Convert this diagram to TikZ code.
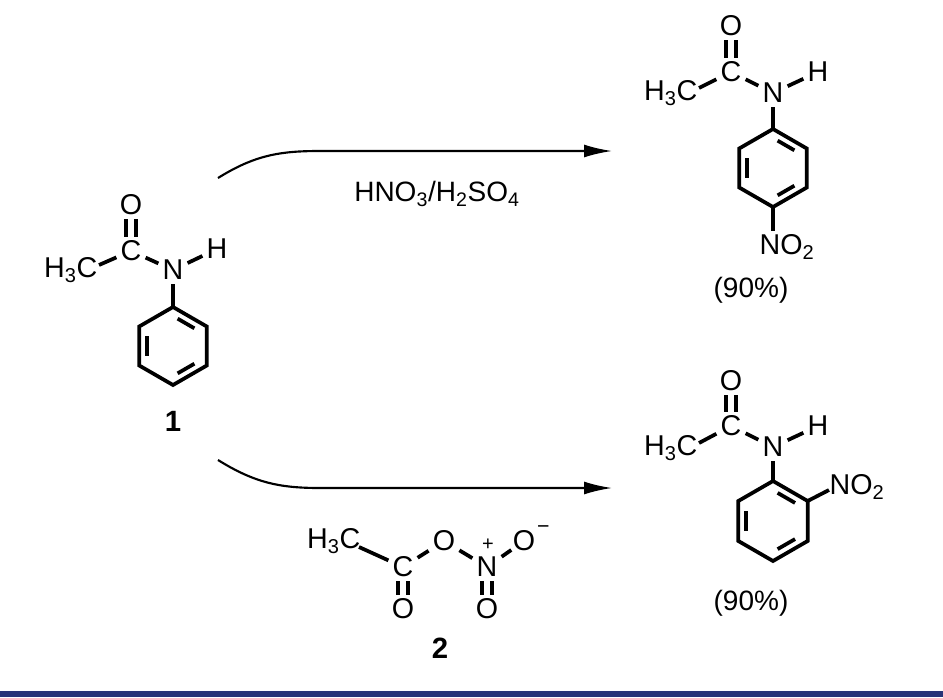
\documentclass[tikz,border=0pt]{standalone}
\usepackage{fontspec}
\setmainfont{Liberation Sans}
\usetikzlibrary{calc,arrows.meta}
\begin{document}
\begin{tikzpicture}[x=0.75pt,y=-0.75pt,
  bond/.style={line width=2.8pt},
  atom/.style={font=\fontsize{21.5}{22}\selectfont,inner sep=3pt},
  lab/.style={font=\fontsize{21}{22}\selectfont,inner sep=1pt},
  bold/.style={font=\fontsize{22}{24}\selectfont\bfseries},
  rxn/.style={line width=1.6pt,-{Latex[length=28pt*0.75,width=13pt*0.75]}}]
\useasboundingbox (0,0) rectangle (943,697);
\fill[fill={rgb,255:red,40;green,52;blue,120}] (0,691) rectangle (943,697);
% ---------- molecule 1
\node[atom] (o1) at (131,205) {O};
\node[atom] (c1) at (131,251) {C};
\node[atom,anchor=east,inner sep=1pt] (m1) at (99,270) {H\textsubscript{3}C};
\node[atom] (n1) at (173,270) {N};
\node[atom] (h1) at (217,249) {H};
\foreach \i/\a in {1/90,2/30,3/-30,4/-90,5/-150,6/150}
  \coordinate (r1v\i) at ($(173,346)+(\a:39 and -39)$);
\draw[bond] ($(m1.east)+(0,-5)$) -- (c1);
\draw[bond] (c1) -- (n1);
\draw[bond] (n1) -- (h1);
\draw[bond] (n1) -- (r1v1);
\draw[bond,line join=miter] (r1v1)--(r1v2)--(r1v3)--(r1v4)--(r1v5)--(r1v6)--cycle;
\draw[bond] ([xshift=-3.5]o1.south) -- ([xshift=-3.5]c1.north);
\draw[bond] ([xshift=3.5]o1.south) -- ([xshift=3.5]c1.north);
\foreach \p/\q in {1/2,3/4,5/6}
  \draw[bond,shorten <=4,shorten >=4] ($(173,346)!0.77!(r1v\p)$) -- ($(173,346)!0.77!(r1v\q)$);
\node[bold] (l1) at (173,421) {1};
% ---------- top product
\node[atom] (o2) at (731,26) {O};
\node[atom] (c2) at (731,72) {C};
\node[atom,anchor=east,inner sep=1pt] (m2) at (699,93) {H\textsubscript{3}C};
\node[atom] (n2) at (773,93) {N};
\node[atom] (h2) at (818,72) {H};
\foreach \i/\a in {1/90,2/30,3/-30,4/-90,5/-150,6/150}
  \coordinate (r2v\i) at ($(773,168)+(\a:39 and -39)$);
\node[atom,anchor=west,inner sep=1pt] (no2a) at (758,247) {NO\textsubscript{2}};
\draw[bond] ($(m2.east)+(0,-5)$) -- (c2);
\draw[bond] (c2) -- (n2);
\draw[bond] (n2) -- (h2);
\draw[bond] (n2) -- (r2v1);
\draw[bond,line join=miter] (r2v1)--(r2v2)--(r2v3)--(r2v4)--(r2v5)--(r2v6)--cycle;
\draw[bond] ([xshift=-3.5]o2.south) -- ([xshift=-3.5]c2.north);
\draw[bond] ([xshift=3.5]o2.south) -- ([xshift=3.5]c2.north);
\foreach \p/\q in {1/2,3/4,5/6}
  \draw[bond,shorten <=4,shorten >=4] ($(773,168)!0.77!(r2v\p)$) -- ($(773,168)!0.77!(r2v\q)$);
\draw[bond] (r2v4) -- (773,231);
\node[lab] (y2) at (751,290) {(90\%)};
% ---------- bottom product
\node[atom] (o3) at (731,381) {O};
\node[atom] (c3) at (731,426) {C};
\node[atom,anchor=east,inner sep=1pt] (m3) at (699,448) {H\textsubscript{3}C};
\node[atom] (n3) at (773,447) {N};
\node[atom] (h3) at (818,426) {H};
\foreach \i/\a in {1/90,2/30,3/-30,4/-90,5/-150,6/150}
  \coordinate (r3v\i) at ($(773,521)+(\a:40 and -40)$);
\node[atom,anchor=west,inner sep=1pt] (no2b) at (828,487) {NO\textsubscript{2}};
\draw[bond] ($(m3.east)+(0,-5)$) -- (c3);
\draw[bond] (c3) -- (n3);
\draw[bond] (n3) -- (h3);
\draw[bond] (n3) -- (r3v1);
\draw[bond,line join=miter] (r3v1)--(r3v2)--(r3v3)--(r3v4)--(r3v5)--(r3v6)--cycle;
\draw[bond] ([xshift=-3.5]o3.south) -- ([xshift=-3.5]c3.north);
\draw[bond] ([xshift=3.5]o3.south) -- ([xshift=3.5]c3.north);
\foreach \p/\q in {1/2,3/4,5/6}
  \draw[bond,shorten <=4,shorten >=4] ($(773,521)!0.77!(r3v\p)$) -- ($(773,521)!0.77!(r3v\q)$);
\draw[bond] (r3v2) -- ($(no2b.west)+(1,3)$);
\node[lab] (y3) at (751,603) {(90\%)};
% ---------- reagent 2
\node[atom,anchor=east,inner sep=1pt] (m4) at (362,541) {H\textsubscript{3}C};
\node[atom] (c4) at (403,567) {C};
\node[atom] (o4) at (403,609) {O};
\node[atom] (oe) at (444,541) {O};
\node[atom] (n4) at (487,567) {N};
\node[inner sep=0pt,font=\fontsize{15}{15}\selectfont] (pl) at (488,545) {+};
\node[atom] (o5) at (487,609) {O};
\node[atom,inner sep=1pt] (om) at (524,541) {O};
\node[inner sep=0pt,font=\fontsize{16}{16}\selectfont,anchor=west] (mn) at (om.north east) {−};
\draw[bond] ($(m4.east)+(-3,6)$) -- (c4);
\draw[bond] (c4) -- (oe);
\draw[bond] (oe) -- (n4);
\draw[bond] (n4) -- (om);
\draw[bond] ([xshift=-3.5]c4.south) -- ([xshift=-3.5]o4.north);
\draw[bond] ([xshift=3.5]c4.south) -- ([xshift=3.5]o4.north);
\draw[bond] ([xshift=-3.5]n4.south) -- ([xshift=-3.5]o5.north);
\draw[bond] ([xshift=3.5]n4.south) -- ([xshift=3.5]o5.north);
\node[bold] (l2) at (440,648) {2};
% ---------- arrows
\coordinate (a1s) at (218,178);
\coordinate (a1e) at (612,151);
\draw[rxn] (a1s) .. controls (255,155) and (280,151) .. (320,151) -- (a1e);
\node[lab] (reag) at (437,194) {HNO\textsubscript{3}/H\textsubscript{2}SO\textsubscript{4}};
\coordinate (a2s) at (218,460);
\coordinate (a2e) at (612,488);
\draw[rxn] (a2s) .. controls (255,483) and (280,488) .. (320,488) -- (a2e);
\end{tikzpicture}
\end{document}
